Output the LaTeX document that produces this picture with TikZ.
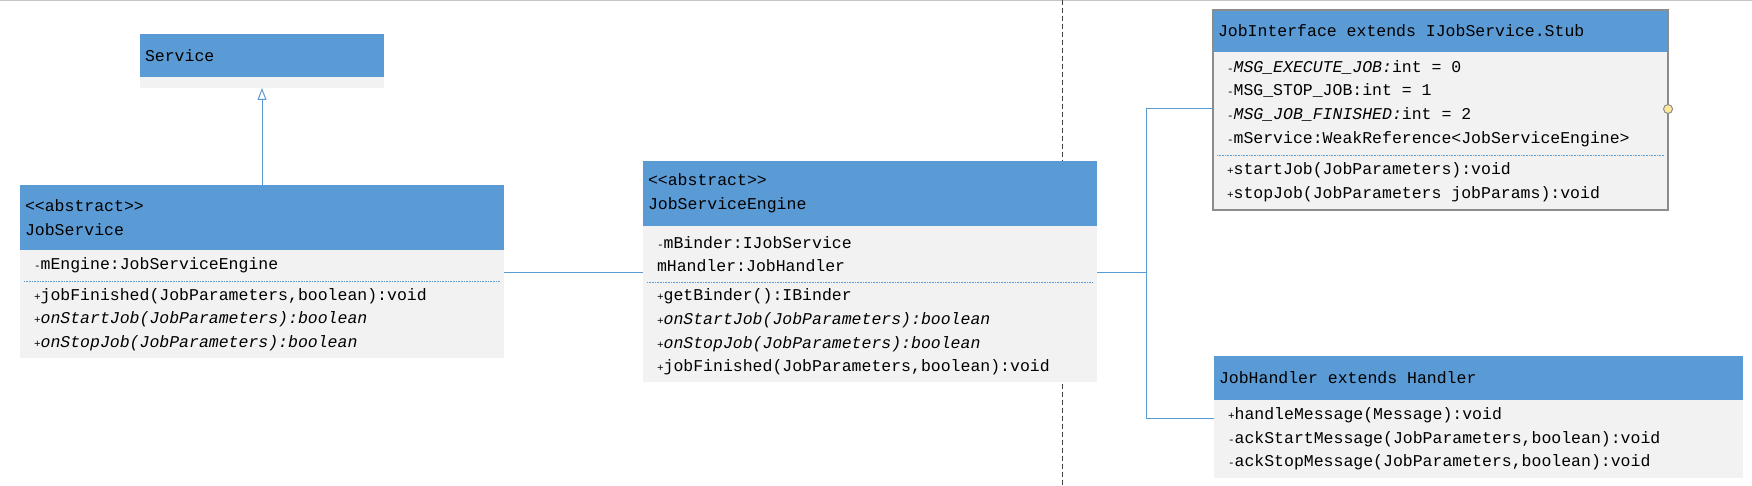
\documentclass[tikz,border=0pt]{standalone}
\usepackage{fontspec}
\setmonofont{Liberation Mono}
\usepackage{tikz}
\usetikzlibrary{positioning}
\usetikzlibrary{arrows.meta}

\definecolor{umlblue}{HTML}{5B9BD5}
\definecolor{umlgray}{HTML}{F2F2F2}
\definecolor{umledge}{HTML}{8C8C8C}
\definecolor{umlpin}{HTML}{FFE699}

\newcommand{\umlfont}{\ttfamily\fontsize{16.5}{23.7}\selectfont}
\newcommand{\umlsp}{\hspace{0.6em}}
\newcommand{\mpub}{{\fontsize{11}{11}\selectfont+}}
\newcommand{\mpriv}{{\fontsize{11}{11}\selectfont-}}

\begin{document}
\begin{tikzpicture}[x=1pt, y=-1pt,
    font=\umlfont,
    hdr/.style={anchor=north west, fill=umlblue, inner xsep=5pt, inner ysep=0pt, outer sep=0pt},
    comp/.style={fill=umlgray, inner xsep=14pt, inner ysep=0pt, outer sep=0pt},
    sep/.style={umlblue, densely dotted, line width=0.6pt},
    assoc/.style={umlblue, line width=1pt}]

\useasboundingbox (0,0) rectangle (1752,486);
\draw[gray!45, line width=1.5pt] (0,0.75) -- (1752,0.75);

% divider behind the engine
\coordinate (divtop) at (1062,0);
\coordinate (divbot) at (1062,486);
\draw[black!75, line width=1pt, dash pattern=on 5pt off 3pt] (divtop) -- (divbot);

% Service
\node[hdr, text width=234pt, minimum width=244pt, minimum height=43pt] (svcHdr) at (140,34) {Service};
\node[comp, below=0pt of svcHdr, text width=216pt, minimum width=244pt, minimum height=11pt] (svcBody) {};

% JobService
\node[hdr, text width=474pt, minimum width=484pt, minimum height=65pt] (jsHdr) at (20,185) {<<abstract>>\\JobService};
\node[comp, below=0pt of jsHdr, text width=456pt, minimum width=484pt, minimum height=31pt] (jsAttr)
    {\mpriv mEngine:JobServiceEngine};
\node[comp, below=0pt of jsAttr, text width=456pt, minimum width=484pt, minimum height=77pt] (jsOps)
    {\mpub jobFinished(JobParameters,boolean):void\\
     \mpub\textit{onStartJob(JobParameters):boolean}\\
     \mpub\textit{onStopJob(JobParameters):boolean}};
\draw[sep] ([xshift=4pt]jsAttr.south west) -- ([xshift=-4pt]jsAttr.south east);

% JobServiceEngine
\node[hdr, text width=444pt, minimum width=454pt, minimum height=65pt] (jseHdr) at (643,161) {<<abstract>>\\JobServiceEngine};
\node[comp, below=0pt of jseHdr, text width=426pt, minimum width=454pt, minimum height=56pt] (jseAttr)
    {\mpriv mBinder:IJobService\\
     mHandler:JobHandler};
\node[comp, below=0pt of jseAttr, text width=426pt, minimum width=454pt, minimum height=100pt] (jseOps)
    {\mpub getBinder():IBinder\\
     \mpub\textit{onStartJob(JobParameters):boolean}\\
     \mpub\textit{onStopJob(JobParameters):boolean}\\
     \mpub jobFinished(JobParameters,boolean):void};
\draw[sep] ([xshift=4pt]jseAttr.south west) -- ([xshift=-4pt]jseAttr.south east);

% JobInterface
\node[hdr, text width=445pt, minimum width=455pt, minimum height=42pt] (jiHdr) at (1213,10)
    {JobInterface\umlsp extends\umlsp IJobService.Stub};
\node[comp, below=0pt of jiHdr, text width=427pt, minimum width=455pt, minimum height=103pt] (jiAttr)
    {\mpriv\textit{MSG\_EXECUTE\_JOB:}int\umlsp=\umlsp 0\\
     \mpriv MSG\_STOP\_JOB:int\umlsp=\umlsp 1\\
     \mpriv\textit{MSG\_JOB\_FINISHED:}int\umlsp=\umlsp 2\\
     \mpriv mService:WeakReference<JobServiceEngine>};
\node[comp, below=0pt of jiAttr, text width=427pt, minimum width=455pt, minimum height=55pt] (jiOps)
    {\mpub startJob(JobParameters):void\\
     \mpub stopJob(JobParameters\umlsp jobParams):void};
\draw[sep] ([xshift=4pt]jiAttr.south west) -- ([xshift=-4pt]jiAttr.south east);
\draw[umledge, line width=2.5pt] (jiHdr.north west) rectangle (jiOps.south east);

% JobHandler
\node[hdr, text width=519pt, minimum width=529pt, minimum height=44pt] (jhHdr) at (1214,356)
    {JobHandler\umlsp extends\umlsp Handler};
\node[comp, below=0pt of jhHdr, text width=501pt, minimum width=529pt, minimum height=78pt] (jhOps)
    {\mpub handleMessage(Message):void\\
     \mpriv ackStartMessage(JobParameters,boolean):void\\
     \mpriv ackStopMessage(JobParameters,boolean):void};

% links
\coordinate (link) at (0,272);
\coordinate (jiLink) at (0,109);
\coordinate (jhLink) at (0,418);
\draw[assoc, -{Triangle[open, length=12pt, width=9pt]}] (jsHdr.north) -- (svcBody.south);
\draw[assoc] (jsAttr.east |- link) -- (jseAttr.west |- link);
\draw[assoc] (jseAttr.east |- link) -- ++(49,0) coordinate (bus);
\draw[assoc] (jiAttr.west |- jiLink) -| (bus) |- (jhOps.west |- jhLink);
\node[circle, fill=umlpin, draw=umledge, line width=1pt, minimum size=9pt, inner sep=0pt] (jiPin) at (jiAttr.east |- jiLink) {};
\end{tikzpicture}
\end{document}
